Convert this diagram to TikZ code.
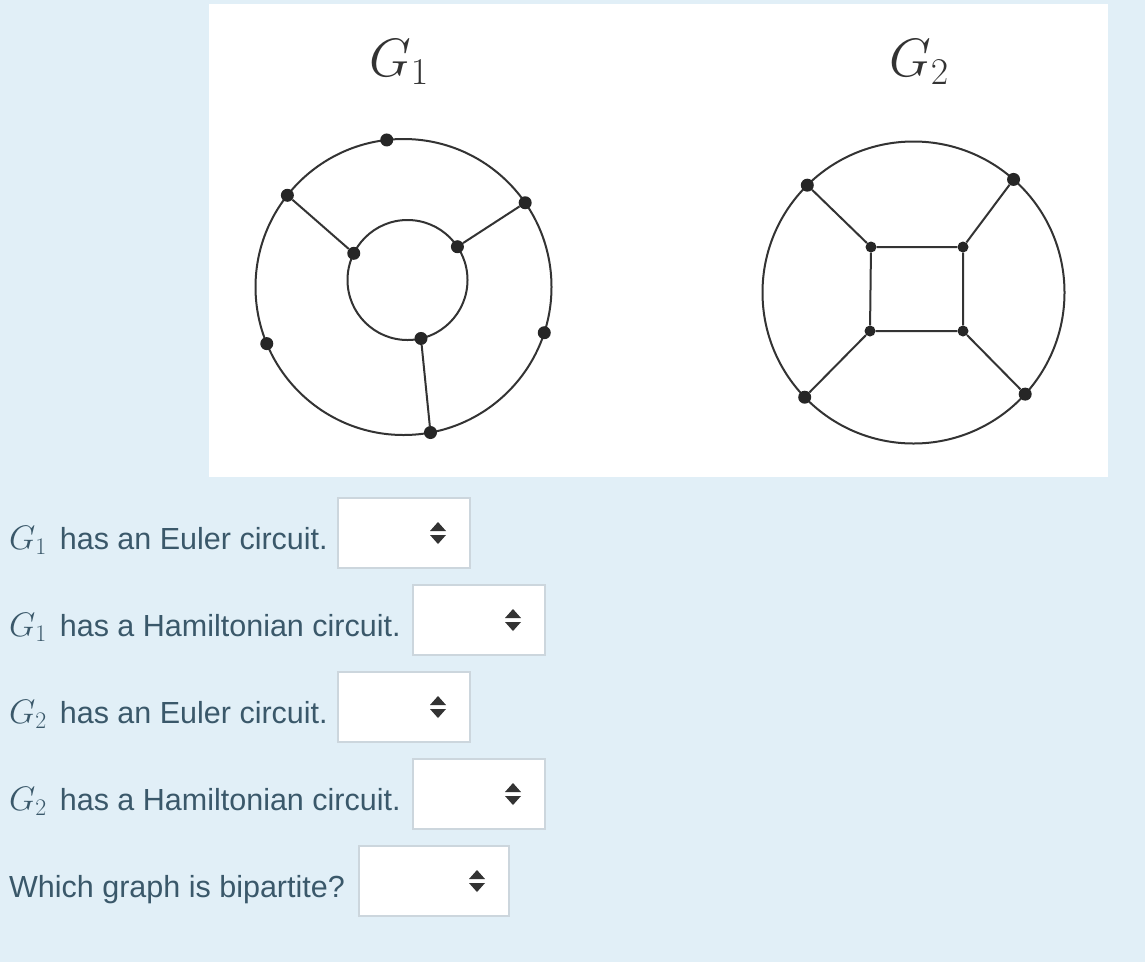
\RequirePackage{fix-cm}
\documentclass[tikz,border=0pt]{standalone}
\usepackage{fontspec}
\setmainfont{Liberation Sans}
\usepackage{tikz}
\usetikzlibrary{positioning,calc}
\definecolor{pagebg}{RGB}{225,239,247}
\definecolor{qtext}{RGB}{58,88,106}
\definecolor{boxedge}{RGB}{204,214,221}
\newcommand{\gname}[1]{{\fontsize{34}{38}\selectfont$G_{#1}$}\hspace{13pt}}

\begin{document}
\begin{tikzpicture}[x=1pt,y=1pt]
  \tikzset{vertex/.style={circle,fill=black!85,inner sep=0pt,minimum size=13pt}}
  \tikzset{edge/.style={black!80,line width=2pt}}
  \tikzset{handlabel/.style={black!80,font=\fontsize{54}{58}\selectfont}}
  \tikzset{question/.style={anchor=base west,inner sep=0pt,text=qtext,font=\fontsize{30.5}{36}\selectfont}}
  \tikzset{selectbox/.style={draw=boxedge,line width=2pt,fill=white,minimum width=132pt,minimum height=70pt,inner sep=0pt}}
  \fill[pagebg] (0,0) rectangle (1145,-962);
  \useasboundingbox (0,0) rectangle (1145,-962);
  \fill[white] (209,-4) rectangle (1108,-477);

  % first graph
  \coordinate (ring) at (403.5,-287);
  \coordinate (hub) at (407.5,-280);
  \node[handlabel] (gone) at (399,-62) {$G_1$};
  \draw[edge] (ring) circle[radius=148pt];
  \draw[edge] (hub) circle[radius=60pt];
  \node[vertex] (otop) at ($(ring)+(96.5:148)$) {};
  \node[vertex] (oleft) at ($(ring)+(141.7:148)$) {};
  \node[vertex] (oright) at ($(ring)+(34.7:148)$) {};
  \node[vertex] (olow) at ($(ring)+(202.5:148)$) {};
  \node[vertex] (oside) at ($(ring)+(342:148)$) {};
  \node[vertex] (obot) at ($(ring)+(280.5:148)$) {};
  \node[vertex] (ileft) at ($(hub)+(153.6:60)$) {};
  \node[vertex] (iright) at ($(hub)+(33.7:60)$) {};
  \node[vertex] (ibot) at ($(hub)+(283:60)$) {};
  \draw[edge] (oleft) -- (ileft);
  \draw[edge] (oright) -- (iright);
  \draw[edge] (ibot) -- (obot);

  % second graph
  \coordinate (wheel) at (913.5,-292.5);
  \node[handlabel] (gtwo) at (919,-62) {$G_2$};
  \draw[edge] (wheel) circle[radius=151pt];
  \node[vertex] (nw) at ($(wheel)+(134.7:151)$) {};
  \node[vertex] (ne) at ($(wheel)+(48.5:151)$) {};
  \node[vertex] (sw) at ($(wheel)+(223.9:151)$) {};
  \node[vertex] (se) at ($(wheel)+(317.7:151)$) {};
  \node[vertex,minimum size=11pt] (snw) at (871,-247) {};
  \node[vertex,minimum size=11pt] (sne) at (963,-247) {};
  \node[vertex,minimum size=11pt] (ssw) at (870,-331) {};
  \node[vertex,minimum size=11pt] (sse) at (963,-331) {};
  \draw[edge] (snw) -- (sne) -- (sse) -- (ssw) -- (snw);
  \draw[edge] (nw) -- (snw);
  \draw[edge] (ne) -- (sne);
  \draw[edge] (sw) -- (ssw);
  \draw[edge] (se) -- (sse);

  % questions
  \node[question] (qa) at (9,-549) {\gname{1}has an Euler circuit.};
  \node[question] (qb) at (9,-636) {\gname{1}has a Hamiltonian circuit.};
  \node[question] (qc) at (9,-723) {\gname{2}has an Euler circuit.};
  \node[question] (qd) at (9,-810) {\gname{2}has a Hamiltonian circuit.};
  \node[question] (qe) at (9,-897) {Which graph is bipartite?};
  \node[selectbox] (boxa) at (404,-533) {};
  \node[selectbox] (boxb) at (479,-620) {};
  \node[selectbox] (boxc) at (404,-707) {};
  \node[selectbox] (boxd) at (479,-794) {};
  \node[selectbox,minimum width=150pt] (boxe) at (434,-881) {};
  \foreach \b in {boxa,boxb,boxc,boxd,boxe} {
    \fill[black!80] ($(\b.east)+(-41,2)$) -- ++(16,0) -- ++(-8,9) -- cycle;
    \fill[black!80] ($(\b.east)+(-41,-2)$) -- ++(16,0) -- ++(-8,-9) -- cycle;
  }
\end{tikzpicture}
\end{document}
